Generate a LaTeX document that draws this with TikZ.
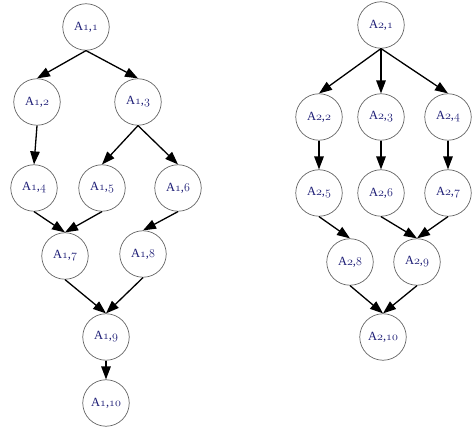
\documentclass[tikz,border=0pt]{standalone}
\usepackage{fontspec}
\setmainfont{Liberation Serif}
\usetikzlibrary{arrows.meta}
\definecolor{lblue}{RGB}{25,25,115}
\definecolor{cgray}{RGB}{100,100,100}
\newcommand{\osd}[1]{{\usefont{OML}{cmm}{m}{it}#1}}
\newcommand{\lab}[2]{A\osd{#1},\osd{#2}}
\tikzset{
  vnode/.style={circle,draw=cgray,line width=0.7pt,minimum size=46.5pt,inner sep=0pt,text=lblue,font=\fontsize{12.5}{13}\selectfont},
  edge/.style={line width=1.3pt,-{Triangle[length=13pt,width=9.5pt]}},
}
\begin{document}
\begin{tikzpicture}[x=1pt,y=-1pt]
\useasboundingbox (0,0) rectangle (474,430);
% left graph
\node[vnode] (a11) at (86,27) {\lab{1}{1}};
\node[vnode] (a12) at (37,102) {\lab{1}{2}};
\node[vnode] (a13) at (138,102) {\lab{1}{3}};
\node[vnode] (a14) at (34,188) {\lab{1}{4}};
\node[vnode] (a15) at (102,188) {\lab{1}{5}};
\node[vnode] (a16) at (178,188) {\lab{1}{6}};
\node[vnode] (a17) at (65,256) {\lab{1}{7}};
\node[vnode] (a18) at (143,254) {\lab{1}{8}};
\node[vnode] (a19) at (106,337) {\lab{1}{9}};
\node[vnode] (a110) at (106,403) {\lab{1}{10}};
\draw[edge] (a11.south) -- (a12.north);
\draw[edge] (a11.south) -- (a13.north);
\draw[edge] (a12.south) -- (a14.north);
\draw[edge] (a13.south) -- (a15.north);
\draw[edge] (a13.south) -- (a16.north);
\draw[edge] (a14.south) -- (a17.north);
\draw[edge] (a15.south) -- (a17.north);
\draw[edge] (a16.south) -- (a18.north);
\draw[edge] (a17.south) -- (a19.north);
\draw[edge] (a18.south) -- (a19.north);
\draw[edge] (a19.south) -- (a110.north);
% right graph
\node[vnode] (a21) at (381,25) {\lab{2}{1}};
\node[vnode] (a22) at (319,117) {\lab{2}{2}};
\node[vnode] (a23) at (381,117) {\lab{2}{3}};
\node[vnode] (a24) at (448,117) {\lab{2}{4}};
\node[vnode] (a25) at (319,193) {\lab{2}{5}};
\node[vnode] (a26) at (381,193) {\lab{2}{6}};
\node[vnode] (a27) at (448,193) {\lab{2}{7}};
\node[vnode] (a28) at (350,262) {\lab{2}{8}};
\node[vnode] (a29) at (417,262) {\lab{2}{9}};
\node[vnode] (a210) at (383,337) {\lab{2}{10}};
\draw[edge] (a21.south) -- (a22.north);
\draw[edge] (a21.south) -- (a23.north);
\draw[edge] (a21.south) -- (a24.north);
\draw[edge] (a22.south) -- (a25.north);
\draw[edge] (a23.south) -- (a26.north);
\draw[edge] (a24.south) -- (a27.north);
\draw[edge] (a25.south) -- (a28.north);
\draw[edge] (a26.south) -- (a29.north);
\draw[edge] (a27.south) -- (a29.north);
\draw[edge] (a28.south) -- (a210.north);
\draw[edge] (a29.south) -- (a210.north);
\end{tikzpicture}
\end{document}
